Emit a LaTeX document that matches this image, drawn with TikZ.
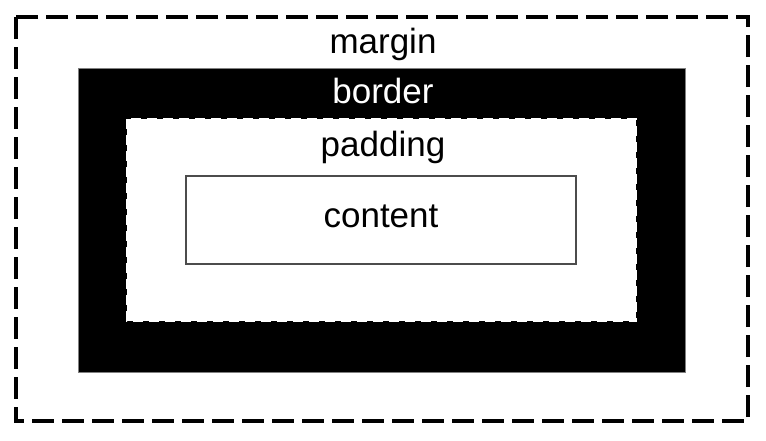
\documentclass[tikz,border=0pt]{standalone}
\usepackage{fontspec}
\setmainfont{Liberation Sans}
\usepackage{xcolor}
\usepackage{tikz}

\begin{document}
\begin{tikzpicture}[x=1pt, y=-1pt,
    label text/.style={anchor=base, inner sep=0pt, font=\fontsize{35}{42}\selectfont}]
  \useasboundingbox (0,0) rectangle (766,440);

  % --- margin (dashed outer box) ---
  \draw[line width=4, dash pattern=on 22 off 8] (16,17) rectangle (748,421);
  \node[label text] (margin) at (383,53) {margin};

  % --- border (black band) ---
  \filldraw[fill=black, draw=gray, line width=1] (78,68) rectangle (685,372);
  \node[label text, text=white] (border) at (383,103) {border};

  % --- padding (white area, dashed edge) ---
  \filldraw[fill=white, draw=white, line width=2, dash pattern=on 10 off 6] (127,119) rectangle (636,321);
  \node[label text] (padding) at (383,156) {padding};

  % --- content ---
  \draw[gray!60!black, line width=1.5] (186,176) rectangle (576,264);
  \node[label text] (content) at (381,227) {content};
\end{tikzpicture}
\end{document}
